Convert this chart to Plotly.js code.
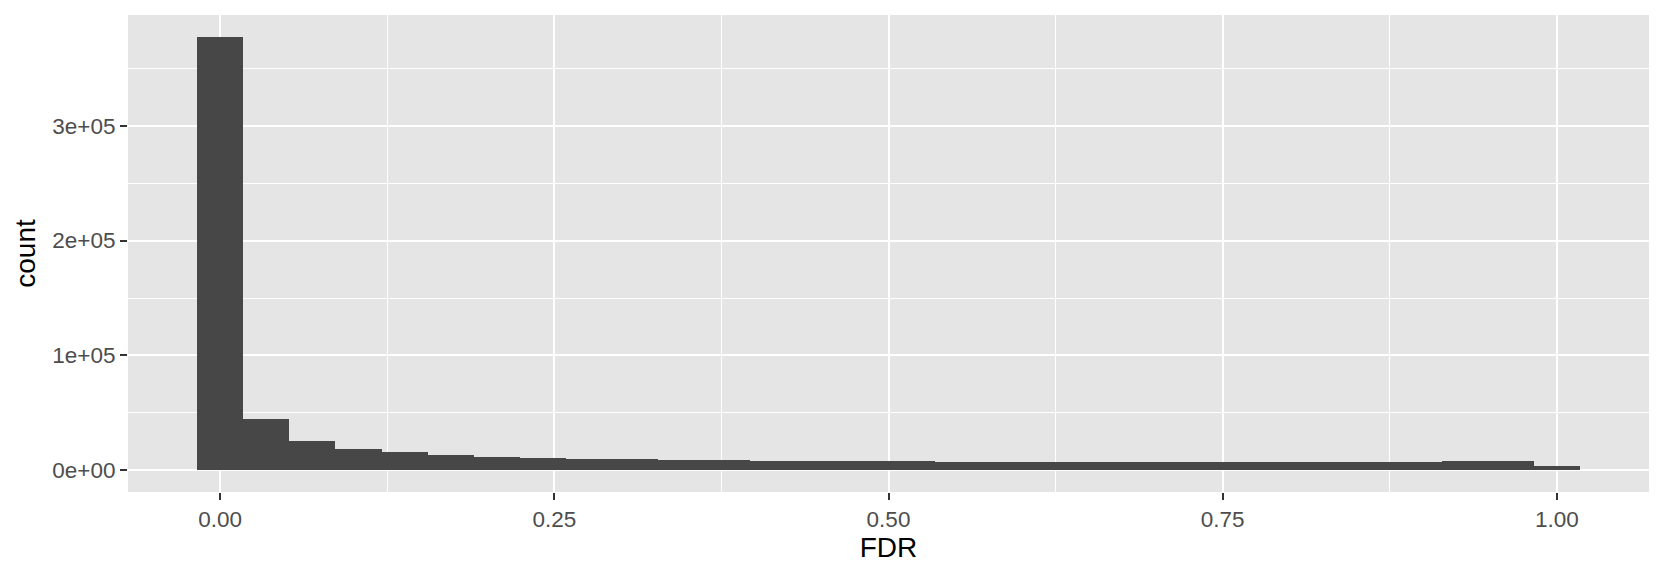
<!DOCTYPE html>
<html>
<head>
<meta charset="utf-8">
<script src="https://cdn.plot.ly/plotly-3.0.1.min.js"></script>
<style>html,body{margin:0;padding:0;background:#fff;}#chart{width:1664px;height:576px;}</style>
</head>
<body>
<div id="chart"></div>
<script>
// Histogram of FDR: 30 bins, binwidth 1/29, centred on 0 ... 1
const binWidth = 1 / 29;
const counts = [
  377500, 44400, 25300, 18300, 15700, 13100, 11300, 10500, 9700, 9500,
  8700, 8600, 7900, 7800, 7700, 7800, 7000, 7100, 6900, 7000,
  7000, 6900, 7000, 7100, 7000, 6900, 7100, 7900, 7800, 3500
];
const binCenters = counts.map((_, i) => i * binWidth);

const xTickVals = [0, 0.25, 0.5, 0.75, 1];
const xTickText = ['0.00', '0.25', '0.50', '0.75', '1.00'];
const xMinorVals = [0.125, 0.375, 0.625, 0.875];
const yTickVals = [0, 100000, 200000, 300000];
const yTickText = ['0e+00', '1e+05', '2e+05', '3e+05'];
const yMinorVals = [50000, 150000, 250000, 350000];

const xMin = -binWidth / 2, xMax = 1 + binWidth / 2;
const xPad = 0.05 * (xMax - xMin);
const yMax = Math.max(...counts);
const yPad = 0.05 * yMax;

const font = 'Liberation Sans, Arial, Helvetica, sans-serif';

const trace = {
  type: 'bar',
  x: binCenters,
  y: counts,
  width: binWidth,
  marker: {color: '#474747', line: {width: 0}},
  hoverinfo: 'x+y'
};

const layout = {
  width: 1664,
  height: 576,
  margin: {l: 128, r: 15, t: 15, b: 84},
  paper_bgcolor: '#ffffff',
  plot_bgcolor: '#e5e5e5',
  showlegend: false,
  bargap: 0,
  font: {family: font, color: '#000000'},
  xaxis: {
    range: [xMin - xPad, xMax + xPad],
    tickmode: 'array',
    tickvals: xTickVals,
    ticktext: xTickText,
    ticks: 'outside',
    ticklen: 7,
    tickwidth: 2,
    tickcolor: '#333333',
    tickfont: {family: font, size: 22.5, color: '#4d4d4d'},
    showgrid: true,
    gridcolor: '#ffffff',
    gridwidth: 2,
    minor: {tickmode: 'array', tickvals: xMinorVals, showgrid: true, gridcolor: '#ffffff', gridwidth: 1, ticks: ''},
    zeroline: false,
    showline: false,
    title: {text: 'FDR', font: {family: font, size: 28, color: '#000000'}, standoff: 6}
  },
  yaxis: {
    range: [-yPad, yMax + yPad],
    tickmode: 'array',
    tickvals: yTickVals,
    ticktext: yTickText,
    ticks: 'outside',
    ticklen: 7,
    tickwidth: 2,
    tickcolor: '#333333',
    tickfont: {family: font, size: 22.5, color: '#4d4d4d'},
    showgrid: true,
    gridcolor: '#ffffff',
    gridwidth: 2,
    minor: {tickmode: 'array', tickvals: yMinorVals, showgrid: true, gridcolor: '#ffffff', gridwidth: 1, ticks: ''},
    zeroline: false,
    showline: false,
    title: {text: 'count', font: {family: font, size: 28, color: '#000000'}, standoff: 8}
  }
};

Plotly.newPlot('chart', [trace], layout, {displayModeBar: false, staticPlot: true});
</script>
</body>
</html>
